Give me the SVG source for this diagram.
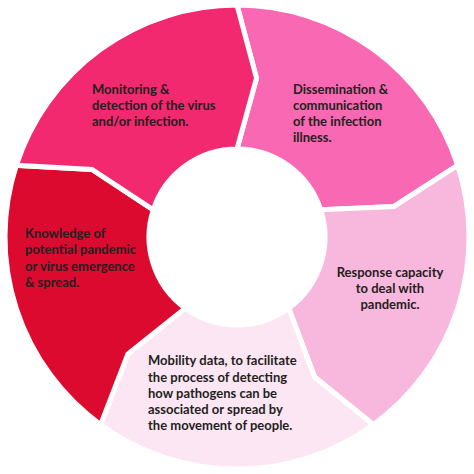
<svg xmlns="http://www.w3.org/2000/svg" width="474" height="474" viewBox="0 0 474 474">
<style>
.seg{stroke:#fff;stroke-width:5;stroke-linejoin:miter}
.t{font-family:Lato,"Open Sans","Liberation Sans",sans-serif;font-weight:700;font-size:13px;fill:#231f20}
.c{text-anchor:middle}
</style>
<rect width="474" height="474" fill="#fff"/>
<g id="dissemination">
<path class="seg" fill="#F968B3" d="M237,5 A232,232 0 0 1 457.65,165.31 L394.06,206.47 L320.69,209.81 A88,88 0 0 0 237,149 L256.50,78.19 Z"/>
<text class="t" x="293" y="94">Dissemination &amp;</text>
<text class="t" x="293" y="110">communication</text>
<text class="t" x="293" y="126">of the infection</text>
<text class="t" x="293" y="142">illness.</text>
</g>
<g id="response">
<path class="seg" fill="#F8B7DC" d="M457.65,165.31 A232,232 0 0 1 373.37,424.69 L314.57,376.94 L288.73,308.19 A88,88 0 0 0 320.69,209.81 L394.06,206.47 Z"/>
<text class="t c" x="390" y="277">Response capacity</text>
<text class="t c" x="390" y="293">to deal with</text>
<text class="t c" x="390" y="309">pandemic.</text>
</g>
<g id="mobility">
<path class="seg" fill="#FDE6F4" d="M373.37,424.69 A232,232 0 0 1 100.63,424.69 L127.88,354.02 L185.27,308.19 A88,88 0 0 0 288.73,308.19 L314.57,376.94 Z"/>
<text class="t" x="148" y="365">Mobility data, to facilitate</text>
<text class="t" x="148" y="382">the process of detecting</text>
<text class="t" x="148" y="398">how pathogens can be</text>
<text class="t" x="148" y="414">associated or spread by</text>
<text class="t" x="148" y="430">the movement of people.</text>
</g>
<g id="knowledge">
<path class="seg" fill="#DC0A2F" d="M100.63,424.69 A232,232 0 0 1 16.35,165.31 L91.99,169.38 L153.31,209.81 A88,88 0 0 0 185.27,308.19 L127.88,354.02 Z"/>
<text class="t" x="25" y="238">Knowledge of</text>
<text class="t" x="25" y="254">potential pandemic</text>
<text class="t" x="25" y="271">or virus emergence</text>
<text class="t" x="25" y="287">&amp; spread.</text>
</g>
<g id="monitoring">
<path class="seg" fill="#F2296E" d="M16.35,165.31 A232,232 0 0 1 237,5 L256.50,78.19 L237,149 A88,88 0 0 0 153.31,209.81 L91.99,169.38 Z"/>
<text class="t" x="92" y="94">Monitoring &amp;</text>
<text class="t" x="92" y="110">detection of the virus</text>
<text class="t" x="92" y="126">and/or infection.</text>
</g>
<g id="connectors"/>
</svg>
